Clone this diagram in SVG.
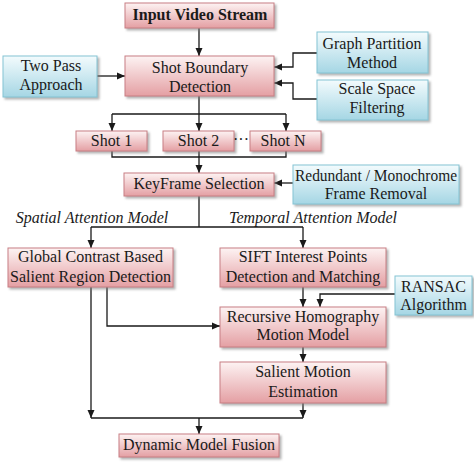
<svg xmlns="http://www.w3.org/2000/svg" width="474" height="463" viewBox="0 0 474 463">
<style>
.pk{fill:url(#gp);stroke:#c77f83;stroke-width:1;filter:url(#sh)}
.bl{fill:url(#gb);stroke:#84c3d3;stroke-width:1;filter:url(#sh)}
text{font-family:"Liberation Serif","Times New Roman",serif;font-size:16px;fill:#1a1a1a;text-anchor:middle}
.b{font-weight:bold}
.it{font-style:italic}
.c{fill:none;stroke:#1a1a1a;stroke-width:1.3}
.a{marker-end:url(#ah)}
</style>
<defs>
<linearGradient id="gp" x1="0" y1="0" x2="0" y2="1">
<stop offset="0" stop-color="#fdf3f3"/><stop offset="1" stop-color="#e49fa3"/>
</linearGradient>
<linearGradient id="gb" x1="0" y1="0" x2="0" y2="1">
<stop offset="0" stop-color="#f3fbfd"/><stop offset="1" stop-color="#a5d6e4"/>
</linearGradient>
<filter id="sh" x="-10%" y="-20%" width="130%" height="150%">
<feDropShadow dx="2" dy="2" stdDeviation="1" flood-color="#808080" flood-opacity="0.6"/>
</filter>
<marker id="ah" markerWidth="8" markerHeight="8" refX="8" refY="4" orient="auto" markerUnits="userSpaceOnUse">
<path d="M0,0.5 L8,4 L0,7.5 Z" fill="#1a1a1a"/>
</marker>
</defs>

<g id="connectors">
<path class="c a" d="M199,28 V56"/>
<path class="c a" d="M97,76 H125"/>
<path class="c a" d="M317,53 H293 V67 H274"/>
<path class="c a" d="M317,99 H293 V83 H274"/>
<path class="c" d="M199,96 V114 M112,114 H286"/>
<path class="c a" d="M112,114 V131"/>
<path class="c a" d="M199,114 V131"/>
<path class="c a" d="M286,114 V131"/>
<path class="c" d="M112,151 V157 H286 V151 M199,151 V157"/>
<path class="c a" d="M199,157 V173"/>
<path class="c a" d="M293,183 H274"/>
<path class="c" d="M199,196 V227 M91,227 H303"/>
<path class="c a" d="M91,227 V248"/>
<path class="c a" d="M303,227 V248"/>
<path class="c a" d="M303,287 V307"/>
<path class="c a" d="M395,294 H320 V307"/>
<path class="c a" d="M107,287 V326 H220"/>
<path class="c a" d="M303,347 V362"/>
<path class="c a" d="M91,287 V418"/>
<path class="c a" d="M303,403 V418"/>
<path class="c" d="M91,418 H303"/>
<path class="c a" d="M199,418 V434"/>
</g>

<g id="input"><rect class="pk" x="125" y="3" width="149" height="25"/><text class="b" x="200" y="20">Input Video Stream</text></g>
<g id="shotboundary"><rect class="pk" x="125" y="56" width="149" height="40"/><text x="200" y="73">Shot Boundary</text><text x="200" y="92">Detection</text></g>
<g id="twopass"><rect class="bl" x="3" y="56" width="94" height="41"/><text x="51" y="71">Two Pass</text><text x="51" y="90">Approach</text></g>
<g id="graphpartition"><rect class="bl" x="317" y="32" width="111" height="41"/><text x="372" y="49">Graph Partition</text><text x="372" y="68">Method</text></g>
<g id="scalespace"><rect class="bl" x="317" y="80" width="111" height="40"/><text x="377" y="94">Scale Space</text><text x="377" y="113">Filtering</text></g>
<g id="shot1"><rect class="pk" x="76" y="131" width="71" height="20"/><text x="111.5" y="146">Shot 1</text></g>
<g id="shot2"><rect class="pk" x="163" y="131" width="71" height="20"/><text x="198.5" y="146">Shot 2</text></g>
<text x="241" y="145">···</text>
<g id="shotN"><rect class="pk" x="250" y="131" width="71" height="20"/><text x="283" y="146">Shot N</text></g>
<g id="keyframe"><rect class="pk" x="124" y="173" width="150" height="23"/><text x="199" y="189">KeyFrame Selection</text></g>
<g id="redundant"><rect class="bl" x="293" y="165" width="166" height="39"/><text x="376" y="181" textLength="162" lengthAdjust="spacingAndGlyphs">Redundant / Monochrome</text><text x="376" y="199">Frame Removal</text></g>
<text class="it" x="92" y="223">Spatial Attention Model</text>
<text class="it" x="313" y="223">Temporal Attention Model</text>
<g id="globalcontrast"><rect class="pk" x="8" y="248" width="165" height="39"/><text x="90.5" y="262">Global Contrast Based</text><text x="90.5" y="282">Salient Region Detection</text></g>
<g id="sift"><rect class="pk" x="220" y="248" width="166" height="39"/><text x="303" y="262">SIFT Interest Points</text><text x="303" y="282">Detection and Matching</text></g>
<g id="ransac"><rect class="bl" x="395" y="276" width="77" height="39"/><text x="433.5" y="292">RANSAC</text><text x="433.5" y="310">Algorithm</text></g>
<g id="recursive"><rect class="pk" x="220" y="307" width="166" height="40"/><text x="303" y="322">Recursive Homography</text><text x="303" y="340">Motion Model</text></g>
<g id="salientmotion"><rect class="pk" x="220" y="362" width="166" height="41"/><text x="303" y="377">Salient Motion</text><text x="303" y="397">Estimation</text></g>
<g id="fusion"><rect class="pk" x="119" y="434" width="160" height="23"/><text x="199" y="450">Dynamic Model Fusion</text></g>
</svg>
